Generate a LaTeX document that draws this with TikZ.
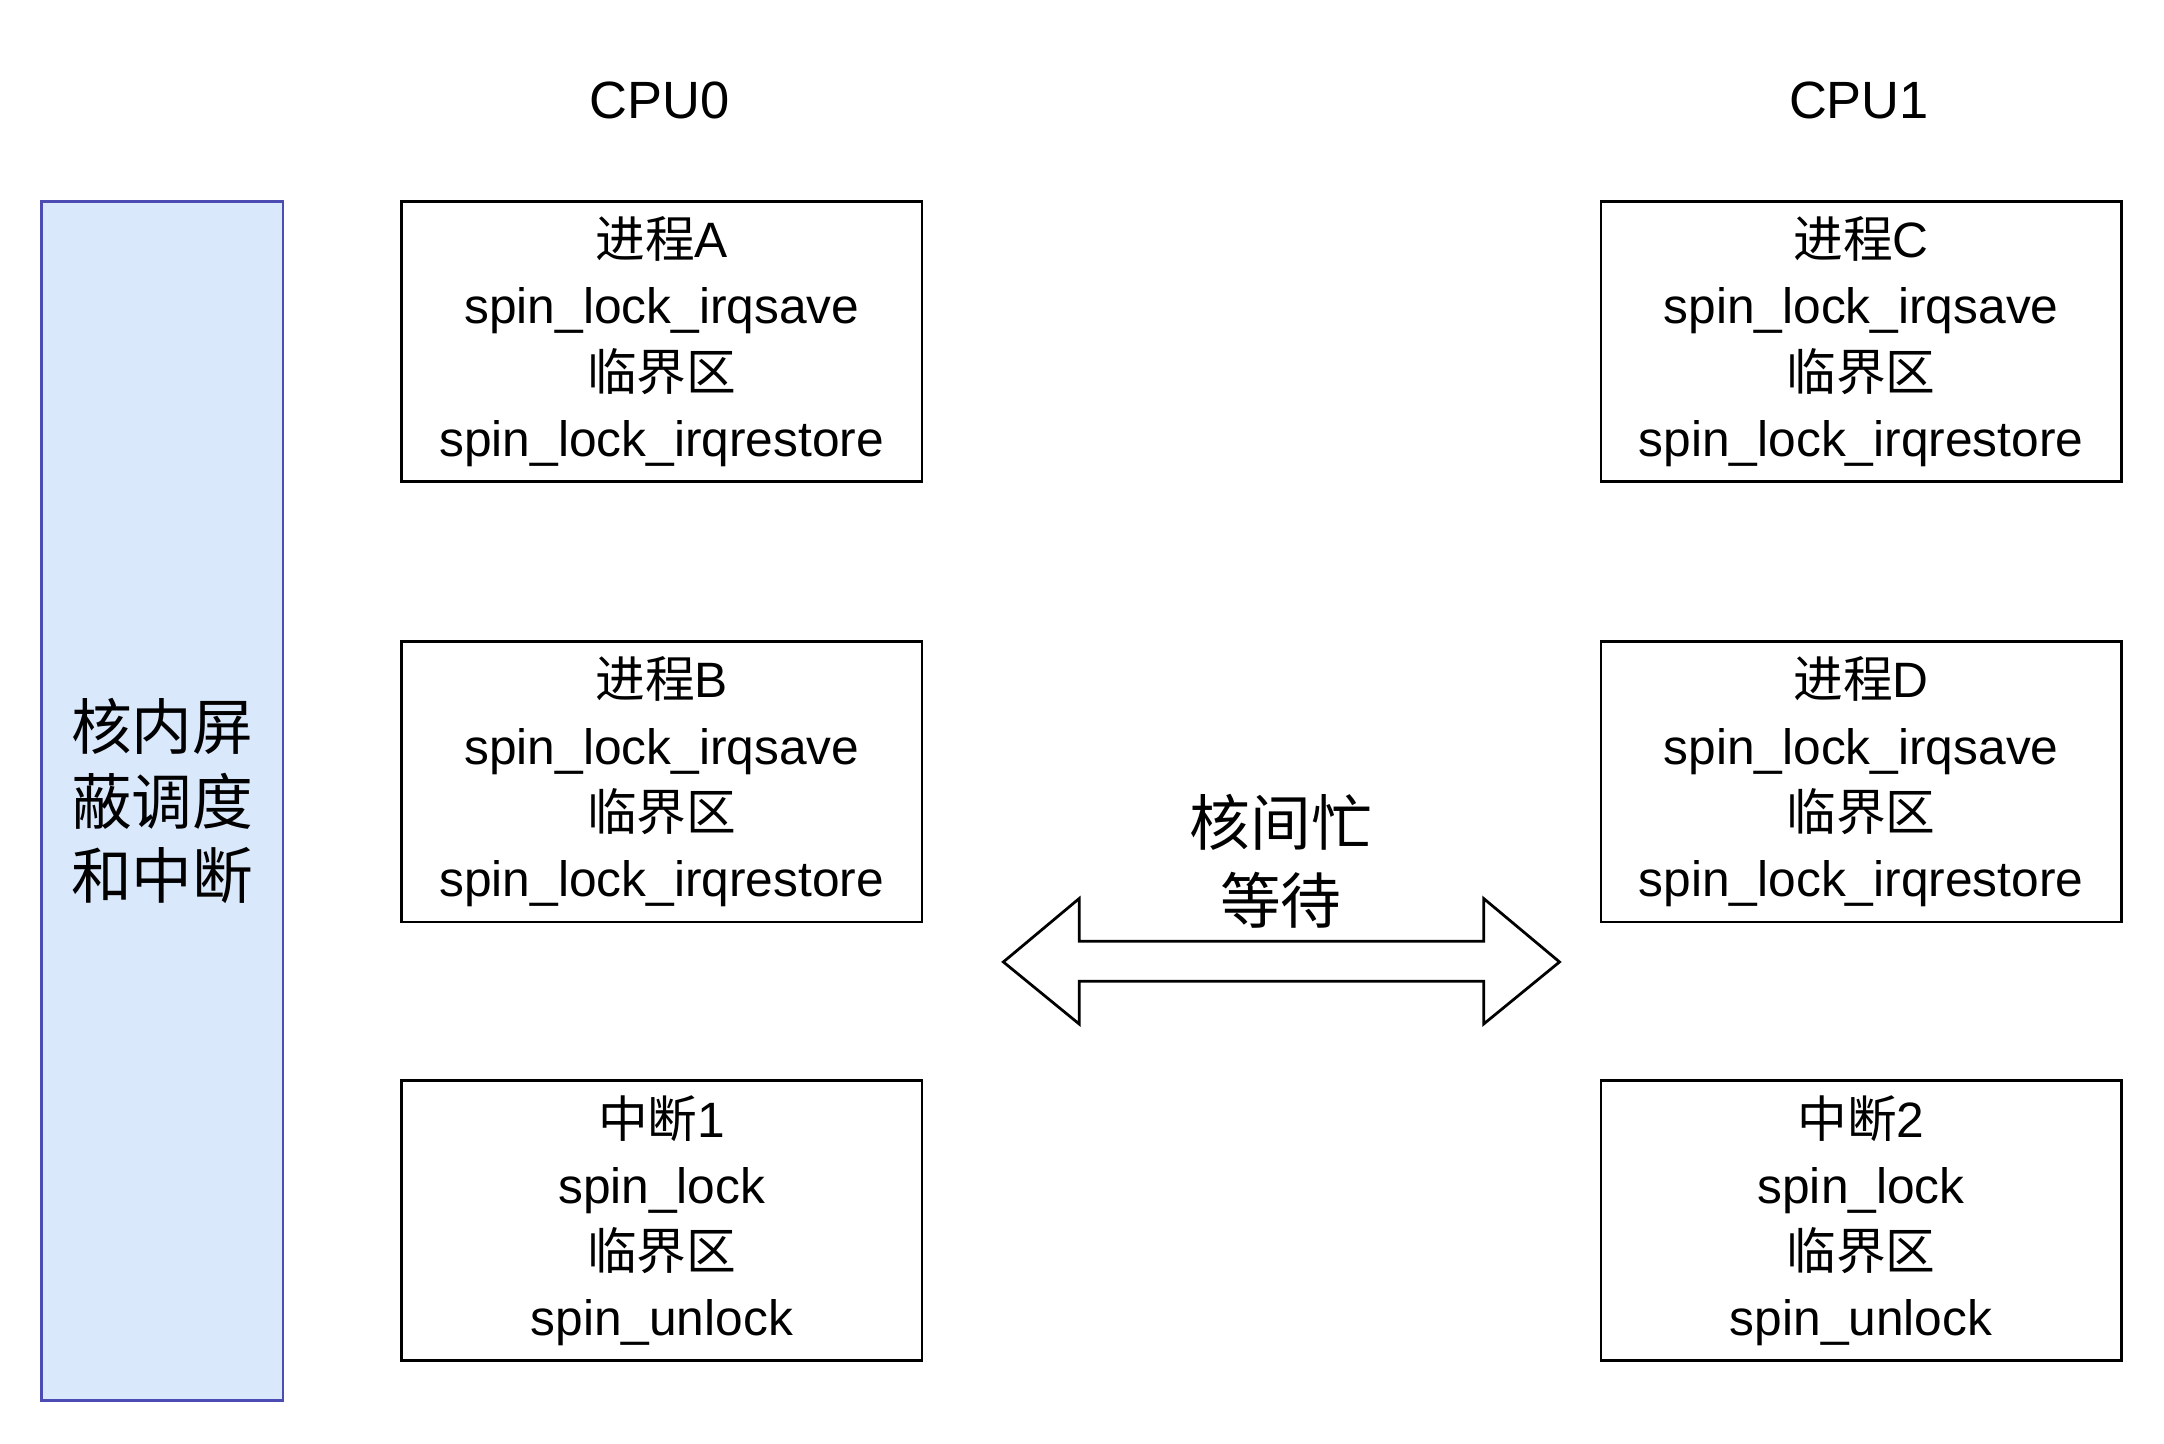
\documentclass[tikz,border=0pt]{standalone}
\usepackage{fontspec}
\setmainfont{Liberation Sans}
\newfontfamily\cjk{Noto Sans CJK SC}
\begin{document}
\begin{tikzpicture}[x=0.5pt,y=-0.5pt,
  proc/.style={draw=black,line width=1pt,minimum width=188.5pt,minimum height=101.5pt,align=center,font=\fontsize{18}{24}\selectfont,inner sep=0pt},
  lbl/.style={font=\fontsize{19}{24}\selectfont}]
\useasboundingbox (0,0) rectangle (1568,1046);
\node[draw=blue!40!gray,fill={rgb,255:red,218;green,232;blue,252},line width=1pt,minimum width=87.5pt,minimum height=434.5pt,inner sep=0pt,align=center,font=\fontsize{22}{27}\selectfont] (side) at (117.5,580.5) {\cjk 核内屏\\\cjk 蔽调度\\\cjk 和中断};
\node[lbl] (cpu0) at (478,73) {CPU0};
\node[lbl] (cpu1) at (1347,73) {CPU1};
\node[proc] (a) at (479.5,247.5) {{\cjk 进程}A\\spin\_lock\_irqsave\\{\cjk 临界区}\\spin\_lock\_irqrestore};
\node[proc] (b) at (479.5,566.5) {{\cjk 进程}B\\spin\_lock\_irqsave\\{\cjk 临界区}\\spin\_lock\_irqrestore};
\node[proc] (i1) at (479.5,884.5) {{\cjk 中断}1\\spin\_lock\\{\cjk 临界区}\\spin\_unlock};
\node[proc] (c) at (1348.5,247.5) {{\cjk 进程}C\\spin\_lock\_irqsave\\{\cjk 临界区}\\spin\_lock\_irqrestore};
\node[proc] (d) at (1348.5,566.5) {{\cjk 进程}D\\spin\_lock\_irqsave\\{\cjk 临界区}\\spin\_lock\_irqrestore};
\node[proc] (i2) at (1348.5,884.5) {{\cjk 中断}2\\spin\_lock\\{\cjk 临界区}\\spin\_unlock};
\draw[line width=1pt,fill=white] (727,697) -- (782,651) -- (782,682) -- (1075,682) -- (1075,651) -- (1130,697) -- (1075,742) -- (1075,711) -- (782,711) -- (782,742) -- cycle;
\node[align=center,font=\fontsize{22}{28}\selectfont] (wait) at (928,624) {\cjk 核间忙\\\cjk 等待};
\end{tikzpicture}
\end{document}
